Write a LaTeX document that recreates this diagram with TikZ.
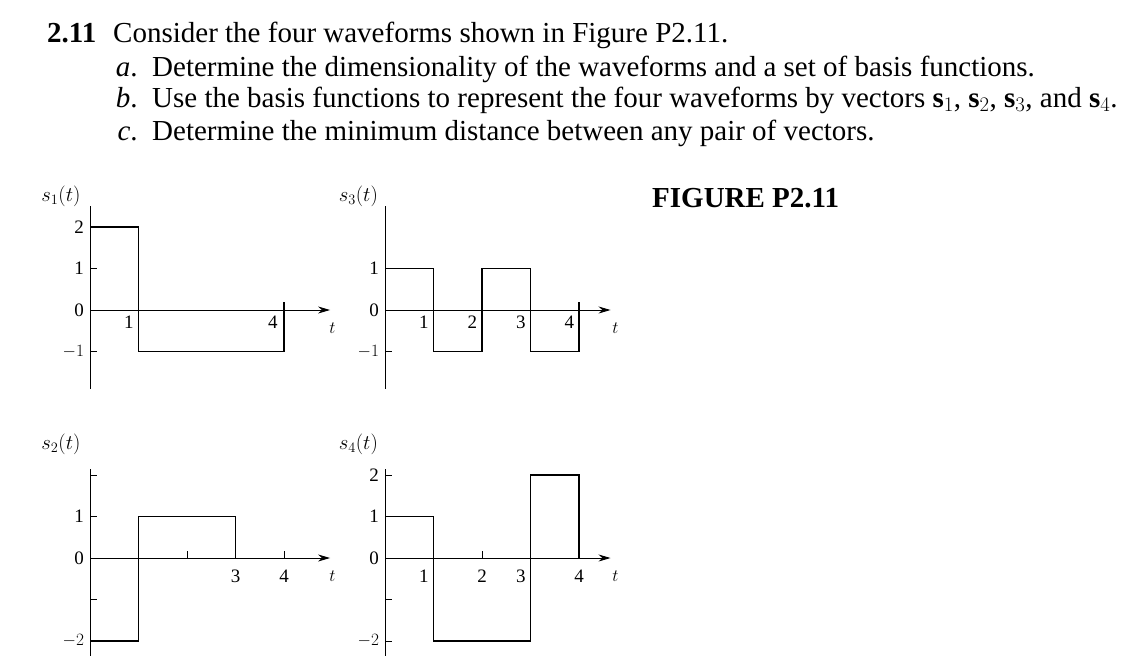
\documentclass[tikz,border=0pt]{standalone}
\usepackage{fontspec}
\setmainfont{Liberation Serif}
\usetikzlibrary{arrows.meta}
\begin{document}
\begin{tikzpicture}[x=1pt,y=-1pt,
  txt/.style={anchor=base west,font=\fontsize{29}{33}\selectfont,inner sep=0pt},
  lab/.style={font=\fontsize{19}{22}\selectfont,inner sep=1pt},
  slab/.style={font=\fontsize{22}{24}\selectfont,inner sep=1pt},
  ax/.style={line width=0.9pt,-{Stealth[length=12pt,width=7pt]}},
  yax/.style={line width=0.9pt},
  wave/.style={line width=1.8pt},
  tk/.style={line width=0.6pt}]
\useasboundingbox (0,0) rectangle (1136,670);
\node[txt,font=\fontsize{29}{33}\selectfont\bfseries] (n) at (47,42) {2.11};
\node[txt] (l1) at (113,42) {Consider the four waveforms shown in Figure P2.11.};
\node[txt] (l2) at (152,76) {\llap{\textit{a}.\ \ }Determine the dimensionality of the waveforms and a set of basis functions.};
\node[txt] (l3) at (152,107) {\llap{\textit{b}.\ \ }Use the basis functions to represent the four waveforms by vectors \textbf{s}$_1$, \textbf{s}$_2$, \textbf{s}$_3$, and \textbf{s}$_4$.};
\node[txt] (l4) at (152,140) {\llap{\textit{c}.\ \ }Determine the minimum distance between any pair of vectors.};
\node[txt,font=\fontsize{29}{33}\selectfont\bfseries] (fig) at (652,207) {FIGURE P2.11};

% s1
\begin{scope}[shift={(90,310)},x=48.5pt,y=41.5pt]
\draw[yax] (0,-1.9) -- (0,2.5);
\draw[ax] (0,0) -- (4.95,0);
\foreach \v/\t in {2/2,1/1,0/0,-1/$-1$}{\draw[tk] (0,\v) -- (0.15,\v); \node[lab,anchor=east] at (-0.1,\v) {\t};}
\node[slab] (s1) at (-0.6,2.75) {$s_1(t)$};
\node[lab] at (5.0,-0.45) {$t$};
\node[lab] at (0.8,-0.3) {1};
\node[lab] at (3.77,-0.3) {4};
\draw[wave] (0,2) -- (1,2) -- (1,-1) -- (4,-1) -- (4,0.2);
\end{scope}

% s3
\begin{scope}[shift={(385,310)},x=48.5pt,y=41.5pt]
\draw[yax] (0,-1.9) -- (0,2.5);
\draw[ax] (0,0) -- (4.65,0);
\foreach \v/\t in {1/1,0/0,-1/$-1$}{\draw[tk] (0,\v) -- (0.15,\v); \node[lab,anchor=east] at (-0.1,\v) {\t};}
\node[slab] (s3) at (-0.55,2.75) {$s_3(t)$};
\node[lab] at (4.75,-0.45) {$t$};
\foreach \k in {1,2,3,4}{\node[lab] at (\k-0.2,-0.3) {\k};}
\draw[wave] (0,1) -- (1,1) -- (1,-1) -- (2,-1) -- (2,1) -- (3,1) -- (3,-1) -- (4,-1) -- (4,0.2);
\end{scope}

% s2
\begin{scope}[shift={(90,558)},x=48.5pt,y=41.5pt]
\draw[yax] (0,-2.35) -- (0,2.15);
\draw[ax] (0,0) -- (4.95,0);
\foreach \v in {2,1,0,-1,-2}{\draw[tk] (0,\v) -- (0.15,\v);}
\foreach \v/\t in {1/1,0/0,-2/$-2$}{\node[lab,anchor=east] at (-0.1,\v) {\t};}
\draw[tk] (2,0) -- (2,0.18); \draw[tk] (4,0) -- (4,0.18);
\node[slab] (s2) at (-0.6,2.75) {$s_2(t)$};
\node[lab] at (5.0,-0.45) {$t$};
\node[lab] at (3,-0.45) {3};
\node[lab] at (4,-0.45) {4};
\draw[wave] (0,-2) -- (1,-2) -- (1,1) -- (3,1) -- (3,0);
\end{scope}

% s4
\begin{scope}[shift={(385,558)},x=48.5pt,y=41.5pt]
\draw[yax] (0,-2.35) -- (0,2.15);
\draw[ax] (0,0) -- (4.65,0);
\foreach \v in {2,1,0,-1,-2}{\draw[tk] (0,\v) -- (0.15,\v);}
\foreach \v/\t in {2/2,1/1,0/0,-2/$-2$}{\node[lab,anchor=east] at (-0.1,\v) {\t};}
\draw[tk] (2,0) -- (2,0.18);
\node[slab] (s4) at (-0.55,2.75) {$s_4(t)$};
\node[lab] at (4.75,-0.45) {$t$};
\node[lab] at (0.8,-0.45) {1};
\node[lab] at (2,-0.45) {2};
\node[lab] at (2.8,-0.45) {3};
\node[lab] at (4,-0.45) {4};
\draw[wave] (0,1) -- (1,1) -- (1,-2) -- (3,-2) -- (3,2) -- (4,2) -- (4,0);
\end{scope}
\end{tikzpicture}
\end{document}
